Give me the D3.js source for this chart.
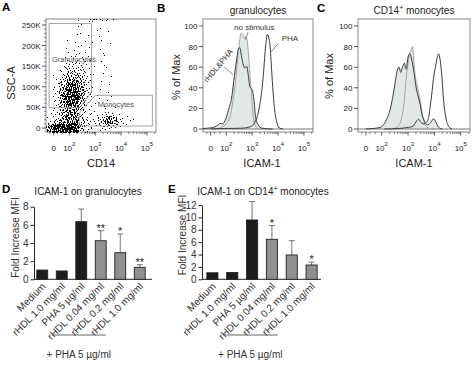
<!DOCTYPE html>
<html>
<head>
<meta charset="utf-8">
<script src="https://cdn.jsdelivr.net/npm/d3@7/dist/d3.min.js"></script>
<style>
  html,body{margin:0;padding:0;background:#fff;}
  svg{display:block;font-family:Arial,"Liberation Sans",Helvetica,sans-serif;}
</style>
</head>
<body>
<svg id="fig" width="474" height="365" viewBox="0 0 474 365"></svg>
<script>
// ======================= DATA =======================
// Panel A: SSC-A (K) vs CD14 (logicle display decades) – events per cell
const cd14BinStart = [1.10,1.35,1.60,1.85,2.10,2.35,2.60,2.85,3.10,3.35,3.60,3.85,4.10,4.35,4.60,4.85,5.10];
const cd14BinWidth = 0.25;
const sscBinStart = [-10,0,10,20,30,40,50,60,70,80,90,100,110,120,130,140,150,160,170,180,190,200,210,220,230,240,250,260];
const sscBinHeight = 10;
const eventCounts = [ // rows bottom (-10K) to top (260K), columns = cd14 bins
  [12,26,30,30,24,5,2,1,1,1,0,0,0,0,0,0,0],
  [16,30,34,34,28,9,3,2,3,6,4,1,1,0,0,0,0],
  [2,7,12,18,17,6,3,2,7,18,11,3,1,0,0,0,0],
  [1,3,10,16,15,5,2,2,6,15,9,2,1,1,0,0,0],
  [1,2,9,14,14,4,2,1,1,3,2,1,0,0,0,0,0],
  [0,2,8,13,13,5,1,1,0,1,0,0,0,0,0,0,0],
  [0,2,9,19,18,7,2,0,1,0,1,0,0,0,0,0,0],
  [0,2,12,25,24,9,2,1,0,1,0,0,0,0,0,0,0],
  [0,2,14,28,27,11,3,0,1,1,0,0,0,0,0,0,0],
  [0,2,13,26,26,12,3,1,0,1,0,0,0,0,0,0,0],
  [0,2,11,22,23,11,3,0,1,0,0,0,0,0,0,0,0],
  [0,1,8,18,19,10,2,1,0,1,0,0,0,0,0,0,0],
  [0,1,6,13,14,8,2,0,1,0,0,0,0,0,0,0,0],
  [0,1,3,8,9,6,2,1,0,1,0,0,0,0,0,0,0],
  [0,0,2,6,7,4,2,0,1,0,0,0,0,0,0,0,0],
  [0,0,2,4,5,3,1,1,0,1,0,0,0,0,0,0,0],
  [0,0,1,3,3,2,1,0,1,0,0,0,0,0,0,0,0],
  [0,0,1,2,3,2,1,0,1,0,0,0,0,0,0,0,0],
  [0,0,1,1,2,1,1,0,0,1,0,0,0,0,0,0,0],
  [0,0,0,1,1,1,1,0,1,0,0,0,0,0,0,0,0],
  [0,0,0,1,1,0,1,0,1,0,0,0,0,0,0,0,0],
  [0,0,0,0,1,1,0,1,0,1,0,0,0,0,0,0,0],
  [0,0,0,1,0,1,0,0,1,0,0,0,0,0,0,0,0],
  [0,0,0,0,1,0,1,0,1,0,0,0,0,0,0,0,0],
  [0,0,0,0,0,1,0,1,0,1,0,0,0,0,0,0,0],
  [0,0,0,0,1,0,0,0,1,0,0,0,0,0,0,0,0],
  [0,0,0,0,0,1,0,1,0,0,0,0,0,0,0,0,0],
  [0,0,0,0,0,1,2,3,2,2,1,0,0,0,0,0,0]
];
const gateGranulocytes = [[1.22,253.6],[2.86,253.6],[2.86,87.4],[2.41,49.3],[1.22,49.3]];
const gateMonocytes    = [[3.01,79.4],[5.21,79.4],[5.21,4.9],[2.38,4.9],[2.38,37.1]];
const gateLabels = [{text:"Granulocytes", u:1.33, ssc:160}, {text:"Monocytes", u:3.80, ssc:52}];
const sscTicks = [0,50,100,150,200,250];
const sscTickLabels = ["0","50K","100K","150K","200K","250K"];

// Logicle axis ticks (display decades) for CD14 / ICAM-1
const logTickPos = [1.4, 2, 3, 4, 5];
const logTickExp = [null, 2, 3, 4, 5];
const pctTicks = [0,20,40,60,80,100];

// Panel B: ICAM-1 histograms on granulocytes  [display decade, % of max]
const granNoStim = [[1.56,0],[1.76,1],[1.95,4],[2.14,12],[2.30,35],[2.40,57],[2.49,80],[2.57,93],[2.66,91],[2.72,87],[2.76,90],[2.82,83],[2.88,66],[2.92,51],[2.98,31],[3.03,15],[3.11,4],[3.22,0.5],[3.35,0]];
const granRhdlPha = [[1.10,0.5],[1.37,1],[1.56,2],[1.68,4],[1.76,5.5],[1.85,5],[1.95,8],[2.08,18],[2.21,31],[2.31,51],[2.40,67],[2.46,77],[2.52,79],[2.59,70],[2.66,62],[2.72,59],[2.79,61],[2.85,52],[2.91,41],[3.00,38],[3.07,28],[3.13,12],[3.23,4],[3.37,1],[3.55,0.3],[3.8,0]];
const granPha = [[1.4,0.2],[2.0,0.5],[2.59,0.8],[2.91,2],[3.11,6.8],[3.24,16.5],[3.35,32.7],[3.42,49],[3.47,65],[3.51,78],[3.55,87],[3.58,92],[3.64,89],[3.69,81],[3.75,58],[3.81,35],[3.88,16],[3.95,6.8],[4.03,1.3],[4.19,0]];
const granAnnot = [
  {text:"no stimulus", u:2.30, pct:96.5, rot:0, lead:[[2.84,94.3],[2.75,87]]},
  {text:"PHA", u:4.14, pct:85.4, rot:0, lead:[[4.01,83.2],[3.73,75]]},
  {text:"rHDL&PHA", u:1.27, pct:44.7, rot:-50, lead:[[1.92,60.2],[2.27,52.4]]}
];

// Panel C: ICAM-1 histograms on CD14+ monocytes
const monoNoStim = [[2.40,0],[2.63,3],[2.76,11],[2.85,26],[2.92,46],[2.99,62],[3.05,72],[3.11,76],[3.17,80],[3.21,70],[3.26,54],[3.33,44],[3.39,37],[3.45,29],[3.52,18],[3.58,8.5],[3.68,2.6],[3.83,0.5],[4.0,0]];
const monoRhdlPha = [[1.40,0],[1.68,0.5],[1.94,1.6],[2.13,6.5],[2.31,18],[2.44,34],[2.54,50],[2.59,57],[2.66,60],[2.72,55],[2.80,61],[2.86,64],[2.92,58],[3.01,71],[3.07,73],[3.14,67],[3.23,54],[3.30,41],[3.39,31],[3.45,25],[3.52,15],[3.61,8.5],[3.73,4],[3.85,6],[3.97,10],[4.05,7],[4.15,2],[4.3,0]];
const monoPha = [[2.1,0],[2.6,0.5],[3.0,1.5],[3.2,3],[3.33,8],[3.40,9.5],[3.48,6.5],[3.6,5],[3.72,7],[3.80,14],[3.83,20],[3.90,34],[3.96,48],[4.06,63],[4.12,71],[4.16,73],[4.21,68],[4.28,52],[4.34,30],[4.44,10],[4.53,3],[4.66,0]];

// Panels D/E: fold increase of ICAM-1 MFI
const barCategories = ["Medium","rHDL 1.0 mg/ml","PHA 5 µg/ml","rHDL 0.04 mg/ml","rHDL 0.2 mg/ml","rHDL 1.0 mg/ml (+PHA)"];
const barLabels = ["Medium","rHDL 1.0 mg/ml","PHA 5 µg/ml","rHDL 0.04 mg/ml","rHDL 0.2 mg/ml","rHDL 1.0 mg/ml"];
const barTreatment = ["control","control","control","rhdl+pha","rhdl+pha","rhdl+pha"];
const granMean = [1.02,0.92,6.35,4.25,2.93,1.32];
const granSD   = [0,0,1.39,1.10,2.06,0.29];
const granSig  = ["","","","**","*","**"];
const monoMean = [1.05,1.10,9.58,6.46,3.93,2.31];
const monoSD   = [0,0,2.96,2.20,2.31,0.44];
const monoSig  = ["","","","*","","*"];
const granTicks = [0,2,4,6,8];
const monoTicks = [0,2,4,6,8,10,12];
const phaGroup = ["rHDL 0.04 mg/ml","rHDL 1.0 mg/ml (+PHA)"];

// ======================= DRAWING =======================
const svg = d3.select("#fig");
const INK = "#222", FRAME = "#8a8a8a";

function label(g, txt, x, y, size, anchor, opts={}) {
  const t = g.append("text").attr("x", x).attr("y", y).attr("font-size", size)
    .attr("text-anchor", anchor || "start").attr("fill", opts.fill || INK);
  if (opts.bold) t.attr("font-weight", "bold");
  if (opts.rot != null) t.attr("transform", `rotate(${opts.rot},${x},${y})`);
  t.text(txt);
  return t;
}

// panel letters
[["A",2,11],["B",157,11.5],["C",317,11.5],["D",2,193],["E",168,193]].forEach(d =>
  label(svg, d[0], d[1], d[2], 11.5, "start", {bold:true, fill:"#000"}));

const flowTop = 19, flowBottom = 132;
const logDomain = [1.1, 5.35];

function flowFrame(x0, x1, yScale, yTicks, yTickLabels, minorY) {
  const x = d3.scaleLinear().domain(logDomain).range([x0, x1]);
  const g = svg.append("g");
  g.append("rect").attr("x", x0).attr("y", flowTop).attr("width", x1 - x0).attr("height", flowBottom - flowTop)
    .attr("fill", "none").attr("stroke", FRAME).attr("stroke-width", 1);
  const minors = [1.25, 1.55, 1.75];
  [2,3,4].forEach(d => { for (let m = 2; m <= 9; m++) minors.push(d + Math.log10(m)); });
  minors.push(5 + Math.log10(2));
  g.selectAll(".mx").data(minors).enter().append("line")
    .attr("x1", d => x(d)).attr("x2", d => x(d)).attr("y1", flowBottom).attr("y2", flowBottom + 2)
    .attr("stroke", "#555").attr("stroke-width", 0.7);
  g.selectAll(".Mx").data(logTickPos).enter().append("line")
    .attr("x1", d => x(d)).attr("x2", d => x(d)).attr("y1", flowBottom).attr("y2", flowBottom + 3.5)
    .attr("stroke", "#444").attr("stroke-width", 0.9);
  logTickPos.forEach((p, i) => {
    const t = g.append("text").attr("x", x(p)).attr("y", 151).attr("font-size", 8)
      .attr("text-anchor", "middle").attr("fill", INK);
    if (logTickExp[i] == null) t.text("0");
    else { t.append("tspan").text("10");
      t.append("tspan").attr("dy", -5).attr("font-size", 6).text(logTickExp[i]); }
  });
  if (minorY) g.selectAll(".my").data(minorY).enter().append("line")
    .attr("x1", x0 - 2).attr("x2", x0).attr("y1", d => yScale(d)).attr("y2", d => yScale(d))
    .attr("stroke", "#555").attr("stroke-width", 0.7);
  g.selectAll(".My").data(yTicks).enter().append("line")
    .attr("x1", x0 - 4).attr("x2", x0).attr("y1", d => yScale(d)).attr("y2", d => yScale(d))
    .attr("stroke", "#444").attr("stroke-width", 0.9);
  yTicks.forEach((v, i) => label(g, yTickLabels[i], x0 - 5.5, yScale(v) + 2.9, 8, "end"));
  return {x, g};
}

// ---------------- Panel A ----------------
{
  const yA = d3.scaleLinear().domain([-9.7, 264.6]).range([flowBottom, flowTop]);
  const minor = d3.range(0, 261, 10).filter(v => v % 50 !== 0);
  const {x, g} = flowFrame(46, 156, yA, sscTicks, sscTickLabels, minor);
  const dots = [];
  eventCounts.forEach((row, j) => row.forEach((n, i) => {
    for (let k = 0; k < n; k++) {
      const fx = (0.37 + (i * 7 + j * 13) * 0.1234 + k * 0.7548776662) % 1;
      const fy = (0.61 + (i * 5 + j * 11) * 0.2718 + k * 0.5698402910) % 1;
      const u = cd14BinStart[i] + fx * cd14BinWidth;
      const s = Math.min(sscBinStart[j] + fy * sscBinHeight, 263.5);
      dots.push([u, s]);
    }
  }));
  g.append("g").attr("shape-rendering", "crispEdges").selectAll("rect").data(dots).enter().append("rect")
    .attr("x", d => Math.round(x(d[0]))).attr("y", d => Math.round(yA(d[1])))
    .attr("width", 1).attr("height", 1).attr("fill", "#000");
  const gl = d3.line().x(d => x(d[0])).y(d => yA(d[1]));
  [gateGranulocytes, gateMonocytes].forEach(gate =>
    g.append("path").attr("d", gl(gate) + "Z").attr("fill", "none").attr("stroke", "#9a9a9a").attr("stroke-width", 0.9));
  gateLabels.forEach(d => label(g, d.text, x(d.u), yA(d.ssc), 7.5, d.text === "Monocytes" ? "middle" : "start", {fill:"#555"}));
  label(svg, "SSC-A", 15, 83, 11, "middle", {rot:-90});
  label(svg, "CD14", 101, 167, 11, "middle");
}

// ---------------- Histogram panels ----------------
const yPct = d3.scaleLinear().domain([-2.9, 106.8]).range([flowBottom, flowTop]);
function histPanel(x0, x1, noStim, rhdl, pha, id) {
  const {x, g} = flowFrame(x0, x1, yPct, pctTicks, pctTicks.map(String), null);
  svg.append("clipPath").attr("id", id).append("rect")
    .attr("x", x0).attr("y", flowTop).attr("width", x1 - x0).attr("height", flowBottom - flowTop);
  const inner = g.append("g").attr("clip-path", `url(#${id})`);
  const area = d3.area().curve(d3.curveMonotoneX).x(d => x(d[0])).y0(yPct(0)).y1(d => yPct(d[1]));
  const line = d3.line().curve(d3.curveMonotoneX).x(d => x(d[0])).y(d => yPct(d[1]));
  inner.append("path").attr("d", area(rhdl)).attr("fill", "#e2e9e5");
  inner.append("path").attr("d", area(noStim)).attr("fill", "#e2e9e5");
  inner.append("line").attr("x1", x0).attr("x2", x1).attr("y1", yPct(0)).attr("y2", yPct(0))
    .attr("stroke", "#555").attr("stroke-width", 0.8);
  inner.append("path").attr("d", line(noStim)).attr("fill", "none").attr("stroke", "#a3a3a3").attr("stroke-width", 1);
  inner.append("path").attr("d", line(pha)).attr("fill", "none").attr("stroke", "#3a3a3a").attr("stroke-width", 1);
  inner.append("path").attr("d", line(rhdl)).attr("fill", "none").attr("stroke", "#3a3a3a").attr("stroke-width", 1);
  return {x, g};
}
{
  const {x, g} = histPanel(203, 313, granNoStim, granRhdlPha, granPha, "clipB");
  granAnnot.forEach(a => {
    label(g, a.text, x(a.u), yPct(a.pct), 8, "start", {rot: a.rot || null, fill:"#333"});
    g.append("line").attr("x1", x(a.lead[0][0])).attr("y1", yPct(a.lead[0][1]))
      .attr("x2", x(a.lead[1][0])).attr("y2", yPct(a.lead[1][1])).attr("stroke", "#555").attr("stroke-width", 0.7);
  });
  label(svg, "granulocytes", 258, 13.5, 10, "middle");
  label(svg, "% of Max", 180, 77, 11, "middle", {rot:-90});
  label(svg, "ICAM-1", 262, 167, 11, "middle");
}
{
  histPanel(358, 470, monoNoStim, monoRhdlPha, monoPha, "clipC");
  const t = svg.append("text").attr("x", 414).attr("y", 13.5).attr("font-size", 10).attr("text-anchor", "middle").attr("fill", INK);
  t.append("tspan").text("CD14");
  t.append("tspan").attr("dy", -4).attr("font-size", 7).text("+");
  t.append("tspan").attr("dy", 4).text(" monocytes");
  label(svg, "% of Max", 333, 76, 11, "middle", {rot:-90});
  label(svg, "ICAM-1", 414, 167, 11, "middle");
}

// ---------------- Bar panels ----------------
function barPanel(o) {
  const g = svg.append("g");
  const x = d3.scaleBand().domain(barCategories).range(o.band).paddingInner(0.44).paddingOuter(0.22);
  const y = d3.scaleLinear().domain([0, o.yMax]).range([279.3, o.yTop]);
  const data = barCategories.map((c, i) => ({c, m: o.mean[i], sd: o.sd[i], sig: o.sig[i], t: barTreatment[i], lab: barLabels[i]}));
  const ax = g.append("g").attr("transform", `translate(${o.axisX},0)`)
    .call(d3.axisLeft(y).tickValues(o.ticks).tickSize(3.5).tickSizeOuter(0).tickPadding(2));
  ax.select(".domain").attr("stroke", INK);
  ax.selectAll(".tick line").attr("stroke", INK);
  ax.selectAll(".tick text").attr("font-size", 10).attr("fill", "#333").attr("font-family", null);
  g.append("line").attr("x1", o.axisX).attr("x2", o.xEnd).attr("y1", y(0)).attr("y2", y(0)).attr("stroke", INK);
  data.filter(d => d.sd > 0).forEach(d => {
    const cx = x(d.c) + x.bandwidth() / 2;
    g.append("line").attr("x1", cx).attr("x2", cx).attr("y1", y(d.m)).attr("y2", y(d.m + d.sd)).attr("stroke", "#666").attr("stroke-width", 0.9);
    g.append("line").attr("x1", cx - 3).attr("x2", cx + 3).attr("y1", y(d.m + d.sd)).attr("y2", y(d.m + d.sd)).attr("stroke", "#666").attr("stroke-width", 0.9);
  });
  g.selectAll(".bar").data(data).enter().append("rect")
    .attr("x", d => x(d.c)).attr("width", x.bandwidth())
    .attr("y", d => y(d.m)).attr("height", d => y(0) - y(d.m))
    .attr("fill", d => d.t === "control" ? "#1c1c1c" : "#8f8f8f")
    .attr("stroke", INK).attr("stroke-width", 0.9);
  data.filter(d => d.sig).forEach(d =>
    label(g, d.sig, x(d.c) + x.bandwidth() / 2, y(d.m + d.sd) + 1, 11, "middle", {fill:"#222"}));
  data.forEach(d => {
    const cx = x(d.c) + x.bandwidth() / 2 + 4, cy = 287;
    label(g, d.lab, cx, cy, 10, "end", {rot:-45, fill:"#333"});
  });
  const bx0 = x(phaGroup[0]) + x.bandwidth() / 2 - 49, bx1 = x(phaGroup[1]) + x.bandwidth() / 2 - 34;
  g.append("line").attr("x1", bx0).attr("x2", bx1).attr("y1", 335).attr("y2", 335).attr("stroke", "#555").attr("stroke-width", 0.9);
  label(g, "+ PHA 5 µg/ml", (bx0 + bx1) / 2, 358, 10, "middle", {fill:"#333"});
  label(svg, "Fold Increase MFI", o.yLabX, o.yLabY, 10, "middle", {rot:-90, fill:"#333"});
  return {x, y, g};
}
barPanel({band:[32.5,149.5], axisX:34, xEnd:152, yMax:8, yTop:206.7, ticks:granTicks, mean:granMean, sd:granSD, sig:granSig, yLabX:19, yLabY:237.5});
barPanel({band:[202.5,321.5], axisX:202, xEnd:321, yMax:12, yTop:205, ticks:monoTicks, mean:monoMean, sd:monoSD, sig:monoSig, yLabX:186, yLabY:235});
label(svg, "ICAM-1 on granulocytes", 88, 195, 10, "middle", {fill:"#222"});
{
  const t = svg.append("text").attr("x", 263).attr("y", 195).attr("font-size", 10).attr("text-anchor", "middle").attr("fill", "#222");
  t.append("tspan").text("ICAM-1 on CD14");
  t.append("tspan").attr("dy", -4).attr("font-size", 7).text("+");
  t.append("tspan").attr("dy", 4).text(" monocytes");
}
</script>
</body>
</html>
